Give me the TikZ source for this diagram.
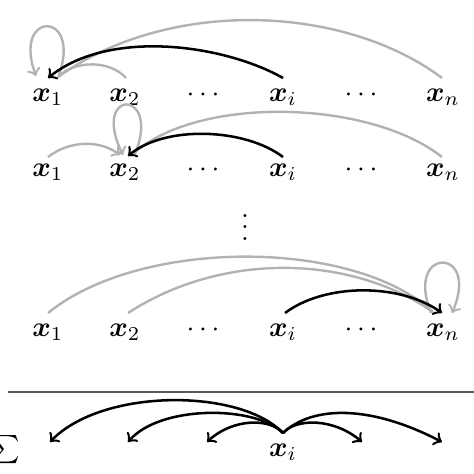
\documentclass[tikz,border=0pt]{standalone}
\usepackage{bm}
\begin{document}
\begin{tikzpicture}[x=0.0125cm,y=-0.0125cm,
  lab/.style={anchor=base,inner sep=0pt},
  blk/.style={line width=0.9pt,black,->},
  gry/.style={line width=0.85pt,black!30},
  gryarr/.style={gry,->},
  sep/.style={line width=0.85pt,black!65}]
\useasboundingbox (0,0) rectangle (474,474);
\clip (0,0) rectangle (474,474);
% ---------- row 1 ----------
\node[lab] (r1a) at (48,101) {$\bm{x}_1$};
\node[lab] (r1b) at (125,101) {$\bm{x}_2$};
\node[lab] (r1c) at (203,101) {$\cdots$};
\node[lab] (r1i) at (283,101) {$\bm{x}_i$};
\node[lab] (r1d) at (361,101) {$\cdots$};
\node[lab] (r1n) at (443,101) {$\bm{x}_n$};
\coordinate (p1a) at (48,78);
\coordinate (p1b) at (126,78);
\coordinate (p1i) at (283,78);
\coordinate (p1n) at (442,78);
\coordinate (p1ga) at (58,77);
\coordinate (p1la) at (59,75);
\coordinate (p1lb) at (36,76);
\draw[gry] (p1n) .. controls (345,5) and (170,-3) .. (p1ga);
\draw[gry] (p1b) .. controls (110,60) and (75,60) .. (p1ga);
\draw[gryarr] (p1la) .. controls (82,10) and (12,10) .. (p1lb);
\draw[blk] (p1i) .. controls (225,45) and (110,28) .. (p1a);
% ---------- row 2 ----------
\node[lab] (r2a) at (48,176) {$\bm{x}_1$};
\node[lab] (r2b) at (125,176) {$\bm{x}_2$};
\node[lab] (r2c) at (203,176) {$\cdots$};
\node[lab] (r2i) at (283,176) {$\bm{x}_i$};
\node[lab] (r2d) at (361,176) {$\cdots$};
\node[lab] (r2n) at (443,176) {$\bm{x}_n$};
\coordinate (p2a) at (48,157);
\coordinate (p2b) at (128,156);
\coordinate (p2i) at (283,157);
\coordinate (p2n) at (442,157);
\coordinate (p2ga) at (120,155);
\coordinate (p2la) at (135,154);
\coordinate (p2lb) at (123,155);
\coordinate (p2gn) at (134,153);
\draw[gryarr] (p2a) .. controls (70,140) and (100,140) .. (p2ga);
\draw[gryarr] (p2la) .. controls (162,88) and (90,88) .. (p2lb);
\draw[gry] (p2n) .. controls (370,100) and (200,95) .. (p2gn);
\draw[blk] (p2i) .. controls (245,128) and (165,125) .. (p2b);
% vertical dots
\node (vd) at (245,219) {$\vdots$};
% ---------- row 3 ----------
\node[lab] (r3a) at (48,336) {$\bm{x}_1$};
\node[lab] (r3b) at (125,336) {$\bm{x}_2$};
\node[lab] (r3c) at (203,336) {$\cdots$};
\node[lab] (r3i) at (283,336) {$\bm{x}_i$};
\node[lab] (r3d) at (361,336) {$\cdots$};
\node[lab] (r3n) at (443,336) {$\bm{x}_n$};
\coordinate (p3a) at (48,313);
\coordinate (p3b) at (128,313);
\coordinate (p3i) at (285,313);
\coordinate (p3n) at (442,313);
\coordinate (p3gn) at (433,312);
\coordinate (p3la) at (431,313);
\coordinate (p3lb) at (452,313);
\draw[gry] (p3a) .. controls (140,238) and (353,238) .. (p3gn);
\draw[gry] (p3b) .. controls (220,253) and (348,253) .. (p3gn);
\draw[gryarr] (p3la) .. controls (404,246) and (481,246) .. (p3lb);
\draw[blk] (p3i) .. controls (325,283) and (400,283) .. (p3n);
% ---------- separator ----------
\coordinate (sl) at (8,392);
\coordinate (sr) at (474,392);
\draw[sep] (sl) -- (sr);
% ---------- bottom ----------
\node[anchor=east,inner sep=0pt] (sig) at (21,450) {$\textstyle\sum$};
\node[lab] (bi) at (283,456) {$\bm{x}_i$};
\coordinate (q0) at (283,433);
\coordinate (q1) at (50,442);
\coordinate (q2) at (128,442);
\coordinate (q3) at (207,442);
\coordinate (q4) at (362,442);
\coordinate (q5) at (442,442);
\draw[blk] (q0) .. controls (240,388) and (102,388) .. (q1);
\draw[blk] (q0) .. controls (255,405) and (160,405) .. (q2);
\draw[blk] (q0) .. controls (270,418) and (233,418) .. (q3);
\draw[blk] (q0) .. controls (296,418) and (334,418) .. (q4);
\draw[blk] (q0) .. controls (313,405) and (371,405) .. (q5);
\end{tikzpicture}
\end{document}
